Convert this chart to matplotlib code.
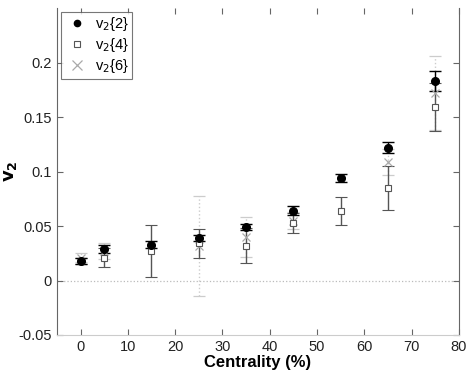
import matplotlib.pyplot as plt
from matplotlib.lines import Line2D
import numpy as np

plt.rcParams['font.family'] = ['Liberation Sans', 'DejaVu Sans']

# centrality bins (%)
cent = [0, 5, 15, 25, 35, 45, 55, 65, 75]

# v2{2}
v22 = [0.018, 0.029, 0.033, 0.039, 0.049, 0.064, 0.094, 0.122, 0.183]
v22_err = [0.003, 0.004, 0.003, 0.003, 0.003, 0.004, 0.004, 0.005, 0.009]

# v2{4}
v24 = [0.018, 0.021, 0.027, 0.034, 0.032, 0.053, 0.064, 0.085, 0.159]
v24_err = [0.003, 0.009, 0.024, 0.013, 0.016, 0.009, 0.013, 0.020, 0.022]

# v2{6}
cent6 = [0, 5, 25, 35, 45, 65, 75]
v26 = [0.021, 0.027, 0.032, 0.040, 0.055, 0.109, 0.172]
v26_err = [0.004, 0.007, 0.046, 0.018, 0.008, 0.012, 0.034]

fig = plt.figure(figsize=(4.74, 3.72), dpi=100)
ax = fig.add_axes([0.120, 0.0995, 0.848, 0.8785])

ax.axhline(0, color='#bbbbbb', lw=0.9, ls=':', zorder=0)

e6 = ax.errorbar(cent6, v26, yerr=v26_err, fmt='x', color='#aaaaaa', ms=6,
                 mew=0.9, ecolor='#cccccc', elinewidth=1.0, capsize=4)
e6[2][0].set_linestyle(':')
ax.errorbar(cent, v24, yerr=v24_err, fmt='s', mfc='white', mec='#555555',
            ms=5, mew=0.8, ecolor='#555555', elinewidth=1.0, capsize=4)
ax.errorbar(cent, v22, yerr=v22_err, fmt='o', color='black', ms=5.5,
            ecolor='black', elinewidth=1.0, capsize=4)

ax.set_xlim(-5, 80)
ax.set_ylim(-0.05, 0.25)
ax.set_xticks(np.arange(0, 81, 10))
ax.set_yticks([-0.05, 0, 0.05, 0.1, 0.15, 0.2])
ax.set_yticklabels(['-0.05', '0', '0.05', '0.1', '0.15', '0.2'])
ax.tick_params(direction='in', length=4, labelsize=10.5, colors='#666666',
               labelcolor='#222222', top=True, right=True)
for s in ['left', 'right']:
    ax.spines[s].set_color('#666666')
ax.spines['bottom'].set_color('#cccccc')
ax.spines['top'].set_visible(False)

ax.set_xlabel('Centrality (%)', fontsize=12, fontweight='bold', labelpad=1)
ax.set_ylabel(r'$\mathbf{v_2}$', fontsize=13)
ax.yaxis.set_label_coords(-0.095, 0.5)

handles = [
    Line2D([], [], ls='none', marker='o', color='black', ms=4.5),
    Line2D([], [], ls='none', marker='s', mfc='white', mec='#555555',
           ms=4.5, mew=0.8),
    Line2D([], [], ls='none', marker='x', color='#aaaaaa', ms=6.5, mew=0.9),
]
labels = [r'v$_2${2}', r'v$_2${4}', r'v$_2${6}']
leg = ax.legend(handles, labels, loc='upper left', fontsize=10.5,
                frameon=True, fancybox=False, edgecolor='#555555',
                borderaxespad=0.25, handletextpad=0.3, handlelength=1.8,
                labelspacing=0.2, borderpad=0.25)
leg.get_frame().set_linewidth(0.8)

fig.savefig('out.png', dpi=100)
